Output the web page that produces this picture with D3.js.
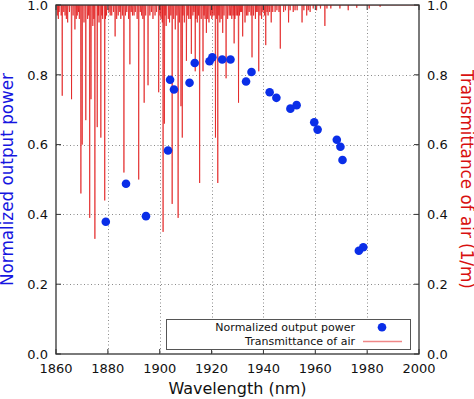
<!DOCTYPE html>
<html>
<head>
<meta charset="utf-8">
<script src="https://cdn.jsdelivr.net/npm/d3@7"></script>
<style>
  body { margin: 0; background: #fff; }
  svg { display: block; font-family: "DejaVu Sans", sans-serif; }
</style>
</head>
<body>
<div id="chart"></div>
<script>
// Measured laser output (normalized)
const powerWl = [1879.2, 1887.0, 1894.7, 1903.2, 1904.0, 1905.5, 1911.5, 1913.5, 1919.2, 1920.3,
  1924.1, 1927.3, 1933.3, 1935.4, 1942.4, 1945.0, 1950.4, 1952.8, 1959.6, 1960.9,
  1968.3, 1969.7, 1970.5, 1976.8, 1978.5];
const powerVal = [0.379, 0.488, 0.395, 0.583, 0.786, 0.758, 0.777, 0.834, 0.839, 0.850,
  0.844, 0.844, 0.781, 0.808, 0.750, 0.734, 0.703, 0.713, 0.664, 0.643,
  0.614, 0.594, 0.556, 0.296, 0.306];

// Absorption lines of air: centre wavelength and minimum transmittance
const absorptionWl = [1862.4, 1866.0, 1869.6, 1870.1, 1871.5, 1873.0, 1873.5, 1875.0, 1875.9, 1877.3,
  1878.8, 1882.8, 1886.2, 1888.5, 1891.9, 1894.0, 1895.5, 1899.6, 1901.3, 1901.8,
  1904.8, 1907.1, 1908.2, 1908.7, 1910.3, 1912.2, 1913.7, 1915.4, 1916.7, 1918.0,
  1921.5, 1922.4, 1924.3, 1925.6, 1928.7, 1930.4, 1932.0, 1932.9, 1935.6, 1936.9,
  1938.2, 1939.3, 1940.9, 1943.0, 1946.5, 1949.7, 1954.9, 1956.7, 1963.7, 1972.7, 1980.8];
const absorptionT = [0.74, 0.73, 0.46, 0.60, 0.67, 0.39, 0.73, 0.33, 0.65, 0.62,
  0.44, 0.91, 0.52, 0.83, 0.50, 0.72, 0.77, 0.75, 0.35, 0.66,
  0.43, 0.39, 0.71, 0.62, 0.84, 0.86, 0.81, 0.49, 0.81, 0.92,
  0.62, 0.49, 0.92, 0.79, 0.89, 0.72, 0.91, 0.95, 0.85, 0.96,
  0.81, 0.96, 0.885, 0.95, 0.875, 0.95, 0.95, 0.97, 0.94, 0.985, 0.99];

// Weak lines forming the band just under 1.0
const weakWl = [1860.5, 1860.9, 1861.2, 1862.0, 1863.0, 1863.5, 1864.0, 1864.5, 1865.2, 1866.6,
  1867.3, 1867.8, 1868.2, 1868.7, 1869.0, 1870.8, 1872.2, 1872.6, 1874.2, 1874.6,
  1876.3, 1876.6, 1877.7, 1878.0, 1879.1, 1879.5, 1880.4, 1880.9, 1881.5, 1882.2,
  1883.4, 1884.0, 1884.6, 1885.0, 1885.6, 1886.8, 1887.3, 1888.0, 1889.0, 1889.5,
  1890.1, 1890.6, 1891.3, 1892.5, 1893.0, 1893.5, 1894.6, 1896.2, 1896.8, 1897.4,
  1898.2, 1898.8, 1900.1, 1900.5, 1901.0, 1902.1, 1902.5, 1903.3, 1903.8, 1904.3,
  1905.4, 1906.0, 1906.6, 1907.6, 1909.0, 1909.5, 1910.8, 1911.2, 1911.8, 1912.8,
  1913.2, 1914.0, 1914.5, 1915.0, 1916.0, 1917.1, 1917.5, 1918.5, 1919.0, 1919.6,
  1920.1, 1920.5, 1921.0, 1922.0, 1922.8, 1923.2, 1923.7, 1924.8, 1926.2, 1926.8,
  1927.3, 1927.8, 1928.3, 1929.0, 1929.5, 1930.0, 1930.8, 1931.2, 1931.6, 1933.5,
  1934.0, 1934.5, 1935.2, 1936.2, 1937.2, 1937.6, 1938.7, 1939.8, 1940.4, 1941.4,
  1941.8, 1942.4, 1943.6, 1944.5, 1945.2, 1946.0, 1947.8, 1948.5, 1950.3, 1951.5,
  1952.2, 1953.0, 1955.6, 1957.3, 1958.0, 1959.2, 1960.5, 1962.0, 1964.5, 1966.0,
  1969.5, 1976.0, 1985.0];
const weakT = [0.97, 0.96, 0.98, 0.97, 0.98, 0.97, 0.96, 0.95, 0.98, 0.97,
  0.93, 0.96, 0.97, 0.98, 0.96, 0.95, 0.96, 0.97, 0.94, 0.96,
  0.97, 0.95, 0.97, 0.96, 0.96, 0.97, 0.98, 0.97, 0.97, 0.98,
  0.96, 0.97, 0.98, 0.96, 0.97, 0.97, 0.98, 0.96, 0.98, 0.97,
  0.97, 0.98, 0.96, 0.98, 0.97, 0.96, 0.97, 0.97, 0.98, 0.96,
  0.97, 0.98, 0.97, 0.96, 0.95, 0.97, 0.94, 0.96, 0.95, 0.97,
  0.96, 0.93, 0.97, 0.95, 0.97, 0.95, 0.97, 0.96, 0.96, 0.97,
  0.98, 0.96, 0.95, 0.97, 0.96, 0.97, 0.96, 0.96, 0.95, 0.97,
  0.96, 0.97, 0.97, 0.96, 0.97, 0.95, 0.96, 0.97, 0.96, 0.97,
  0.97, 0.96, 0.97, 0.96, 0.97, 0.97, 0.97, 0.98, 0.98, 0.97,
  0.97, 0.98, 0.97, 0.97, 0.98, 0.98, 0.97, 0.98, 0.97, 0.98,
  0.97, 0.98, 0.98, 0.98, 0.985, 0.98, 0.98, 0.985, 0.985, 0.98,
  0.985, 0.985, 0.985, 0.985, 0.98, 0.99, 0.985, 0.99, 0.99, 0.99,
  0.99, 0.992, 0.995];

const xTicks = [1860, 1880, 1900, 1920, 1940, 1960, 1980, 2000];
const yTicks = [0.0, 0.2, 0.4, 0.6, 0.8, 1.0];

const width = 474, height = 399;
const margin = { top: 5, right: 55, bottom: 45, left: 56 };
const plotW = width - margin.left - margin.right;
const plotH = height - margin.top - margin.bottom;

const svg = d3.select("#chart").append("svg")
  .attr("width", width)
  .attr("height", height);

const x = d3.scaleLinear().domain([1860, 2000]).range([margin.left, margin.left + plotW]);
const yL = d3.scaleLinear().domain([0, 1]).range([margin.top + plotH, margin.top]);
const yR = d3.scaleLinear().domain([0, 1]).range([margin.top + plotH, margin.top]);

svg.append("defs").append("clipPath").attr("id", "plotclip")
  .append("rect")
  .attr("x", margin.left).attr("y", margin.top)
  .attr("width", plotW).attr("height", plotH);

// Grid
const grid = svg.append("g").attr("stroke", "#8a8a8a").attr("stroke-width", 1)
  .attr("stroke-dasharray", "1,2.5");
grid.selectAll(".gx").data(xTicks.slice(1, -1)).enter().append("line")
  .attr("x1", d => Math.round(x(d)) + 0.5).attr("x2", d => Math.round(x(d)) + 0.5)
  .attr("y1", margin.top).attr("y2", margin.top + plotH);
grid.selectAll(".gy").data(yTicks.slice(1, -1)).enter().append("line")
  .attr("y1", d => Math.round(yL(d)) + 0.5).attr("y2", d => Math.round(yL(d)) + 0.5)
  .attr("x1", margin.left).attr("x2", margin.left + plotW);

// Transmittance spectrum
const lines = absorptionWl.map((w, i) => ({ wl: w, t: absorptionT[i] }))
  .concat(weakWl.map((w, i) => ({ wl: w, t: weakT[i] })))
  .sort((a, b) => a.wl - b.wl);
const halfW = 0.12;
const spectrum = [{ wl: 1860, t: 1 }];
lines.forEach(l => {
  spectrum.push({ wl: l.wl - halfW, t: 1 });
  spectrum.push({ wl: l.wl, t: l.t });
  spectrum.push({ wl: l.wl + halfW, t: 1 });
});
spectrum.push({ wl: 2000, t: 1 });

const specLine = d3.line().x(d => x(d.wl)).y(d => yR(d.t));
svg.append("path")
  .datum(spectrum)
  .attr("clip-path", "url(#plotclip)")
  .attr("d", specLine)
  .attr("fill", "none")
  .attr("stroke", "#e01010")
  .attr("stroke-opacity", 0.68)
  .attr("stroke-width", 1);

// Power points
svg.append("g").selectAll("circle")
  .data(powerWl)
  .enter().append("circle")
  .attr("cx", d => x(d))
  .attr("cy", (d, i) => yL(powerVal[i]))
  .attr("r", 4.3)
  .attr("fill", "#0a2ee8");

// Frame
svg.append("rect")
  .attr("x", margin.left).attr("y", margin.top)
  .attr("width", plotW).attr("height", plotH)
  .attr("fill", "none").attr("stroke", "#333").attr("stroke-width", 1.3);

// Inward ticks
const tickLen = 5;
const ticks = svg.append("g").attr("stroke", "#333").attr("stroke-width", 1);
xTicks.forEach(t => {
  ticks.append("line").attr("x1", x(t)).attr("x2", x(t))
    .attr("y1", margin.top + plotH).attr("y2", margin.top + plotH - tickLen);
  ticks.append("line").attr("x1", x(t)).attr("x2", x(t))
    .attr("y1", margin.top).attr("y2", margin.top + tickLen);
});
yTicks.forEach(t => {
  ticks.append("line").attr("x1", margin.left).attr("x2", margin.left + tickLen)
    .attr("y1", yL(t)).attr("y2", yL(t));
  ticks.append("line").attr("x1", margin.left + plotW).attr("x2", margin.left + plotW - tickLen)
    .attr("y1", yR(t)).attr("y2", yR(t));
});

// Tick labels
svg.append("g").selectAll("text").data(xTicks).enter().append("text")
  .attr("x", d => x(d)).attr("y", 373)
  .attr("text-anchor", "middle")
  .attr("font-size", 13).attr("fill", "#111")
  .text(d => d);
svg.append("g").selectAll("text").data(yTicks).enter().append("text")
  .attr("x", 48).attr("y", d => yL(d) + 4.7)
  .attr("text-anchor", "end")
  .attr("font-size", 13).attr("fill", "#111")
  .text(d => d.toFixed(1));
svg.append("g").selectAll("text").data(yTicks).enter().append("text")
  .attr("x", 427).attr("y", d => yR(d) + 4.7)
  .attr("text-anchor", "start")
  .attr("font-size", 13).attr("fill", "#111")
  .text(d => d.toFixed(1));

// Axis titles
svg.append("text")
  .attr("x", margin.left + plotW / 2).attr("y", 394)
  .attr("text-anchor", "middle").attr("font-size", 16).attr("fill", "#111")
  .text("Wavelength (nm)");
svg.append("text")
  .attr("transform", `translate(13,${margin.top + plotH / 2}) rotate(-90)`)
  .attr("text-anchor", "middle").attr("font-size", 16.8).attr("fill", "#1515e0")
  .text("Normalized output power");
svg.append("text")
  .attr("transform", `translate(461,${margin.top + plotH / 2}) rotate(90)`)
  .attr("text-anchor", "middle").attr("font-size", 16.8).attr("fill", "#d81010")
  .text("Transmittance of air (1/m)");

// Legend
const legend = svg.append("g");
legend.append("rect")
  .attr("x", 166.5).attr("y", 319.5).attr("width", 244).attr("height", 30)
  .attr("fill", "#fff").attr("stroke", "#555").attr("stroke-width", 1);
legend.append("text").attr("x", 355).attr("y", 331).attr("text-anchor", "end")
  .attr("font-size", 11).attr("fill", "#111").text("Normalized output power");
legend.append("text").attr("x", 355).attr("y", 345).attr("text-anchor", "end")
  .attr("font-size", 11).attr("fill", "#111").text("Transmittance of air");
legend.append("circle").attr("cx", 382).attr("cy", 327.3).attr("r", 4.3).attr("fill", "#0a2ee8");
legend.append("line").attr("x1", 363).attr("x2", 402).attr("y1", 341.5).attr("y2", 341.5)
  .attr("stroke", "#e01010").attr("stroke-opacity", 0.5).attr("stroke-width", 1.3);
</script>
</body>
</html>
